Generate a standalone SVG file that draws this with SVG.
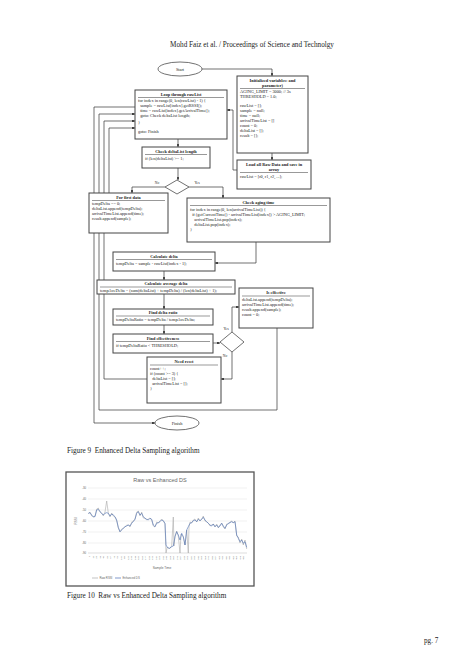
<svg xmlns="http://www.w3.org/2000/svg" width="474" height="670" viewBox="0 0 474 670">
<defs>
<marker id="ah" viewBox="0 0 6 6" refX="6" refY="3" markerWidth="4" markerHeight="4" orient="auto"><path d="M0,0L6,3L0,6z" fill="#222"/></marker>
<style>
.b{fill:#fff;stroke:#444;stroke-width:1}
.e{fill:#fff;stroke:#333;stroke-width:0.7}
.t{font-family:"Liberation Serif",serif;font-size:4.3px;fill:#222;white-space:pre}
.h{font-weight:bold;text-anchor:middle}
.u{stroke:#333;stroke-width:0.5}
.c{fill:none;stroke:#333;stroke-width:0.7}
.a{marker-end:url(#ah)}
.lbl{font-family:"Liberation Serif",serif;font-size:3.6px;fill:#222}
.cap{font-family:"Liberation Serif",serif;font-size:7.2px;fill:#222;white-space:pre}
.g{stroke:#e2e2e2;stroke-width:0.5}
.ct{font-family:"Liberation Sans",sans-serif;fill:#666}
</style>
</defs>
<rect width="474" height="670" fill="#fff"/>
<text class="cap" x="252" y="46.5" text-anchor="middle" font-size="7.5">Mohd Faiz et al. / Proceedings of Science and Technolgy</text>

<g id="connectors">
<path class="c a" d="M202,69H272V76"/>
<path class="c a" d="M272,153V160"/>
<path class="c a" d="M237,170H233V110H227"/>
<path class="c a" d="M178,139V147"/>
<path class="c a" d="M178,168V180"/>
<path class="c a" d="M165,187H132V193"/>
<path class="c a" d="M189,187H223V198"/>
<path class="c a" d="M256,242V263H215"/>
<path class="c a" d="M164,271V280"/>
<path class="c a" d="M164,294V309"/>
<path class="c a" d="M164,325V334"/>
<path class="c a" d="M213,343H220"/>
<path class="c a" d="M232,332V307H239"/>
<path class="c a" d="M232,352V379H221"/>
<path class="c a" d="M277,328V410H99V114H135"/>
<path class="c a" d="M147,379H104V121H135"/>
<path class="c a" d="M109,193V128H135"/>
<path class="c a" d="M135,107H94V423H155"/>
<text class="lbl" x="157" y="183.5" text-anchor="middle">No</text>
<text class="lbl" x="197" y="183.5" text-anchor="middle">Yes</text>
<text class="lbl" x="226" y="330" text-anchor="middle">Yes</text>
<text class="lbl" x="225" y="357" text-anchor="middle">No</text>
</g>

<g id="start"><ellipse class="e" cx="180" cy="69" rx="22" ry="7"/><text class="t" x="180" y="70.5" text-anchor="middle">Start</text></g>

<g id="init">
<rect class="b" x="237" y="76" width="71" height="77"/>
<text class="t h" x="272.5" y="81.5">Initialized variables: and</text>
<text class="t h" x="272.5" y="86.5">parameter)</text>
<line class="u" x1="240" y1="88.5" x2="305" y2="88.5"/>
<text class="t" x="240" y="92.5">AGING_LIMIT = 3000; // 3s</text>
<text class="t" x="240" y="97.5">THRESHOLD = 1.0;</text>
<text class="t" x="240" y="107">rawList = [];</text>
<text class="t" x="240" y="112">sample = null;</text>
<text class="t" x="240" y="117">time = null;</text>
<text class="t" x="240" y="122">arrivalTimeList = []</text>
<text class="t" x="240" y="127">count = 0;</text>
<text class="t" x="240" y="132">deltaList = [];</text>
<text class="t" x="240" y="137">result = [];</text>
</g>

<g id="load">
<rect class="b" x="237" y="160" width="74" height="29"/>
<text class="t h" x="274" y="165.5">Load all Raw Data and save in</text>
<text class="t h" x="274" y="170.5">array</text>
<line class="u" x1="240" y1="172.5" x2="308" y2="172.5"/>
<text class="t" x="240" y="177.5">rawList = [r0, r1, r2, ...];</text>
</g>

<g id="loop">
<rect class="b" x="135" y="90" width="92" height="49"/>
<text class="t h" x="181" y="95.5">Loop through rawList</text>
<line class="u" x1="138" y1="97.5" x2="224" y2="97.5"/>
<text class="t" x="138" y="102">for index in range(0, len(rawList) - 1) {</text>
<text class="t" x="138" y="107">  sample = rawList[index].getRSSI();</text>
<text class="t" x="138" y="112">  time = rawList[index].getArrivalTime();</text>
<text class="t" x="138" y="117">  goto: Check deltaList length;</text>
<text class="t" x="138" y="124">}</text>
<text class="t" x="138" y="133">goto: Finish</text>
</g>

<g id="checklen">
<rect class="b" x="142" y="147" width="68" height="21"/>
<text class="t h" x="176" y="152.5">Check deltaList length</text>
<line class="u" x1="145" y1="154.5" x2="207" y2="154.5"/>
<text class="t" x="145" y="159.5">if (len(deltaList) &gt;= 1;</text>
</g>

<g id="dec1"><path class="e" d="M177,180L189,187L177,194L165,187z"/></g>

<g id="firstdata">
<rect class="b" x="89" y="193" width="79" height="40"/>
<text class="t h" x="128.5" y="198.5">For first data</text>
<line class="u" x1="92" y1="200.5" x2="165" y2="200.5"/>
<text class="t" x="92" y="205">tempDelta == 0;</text>
<text class="t" x="92" y="210">deltaList.append(tempDelta);</text>
<text class="t" x="92" y="215">arrivalTimeList.append(time);</text>
<text class="t" x="92" y="220">result.append(sample);</text>
</g>

<g id="aging">
<rect class="b" x="187" y="198" width="143" height="44"/>
<text class="t h" x="258.5" y="203.5">Check aging time</text>
<line class="u" x1="190" y1="205.5" x2="327" y2="205.5"/>
<text class="t" x="190" y="210.5">for index in range(0, len(arrivalTimeList)) {</text>
<text class="t" x="190" y="215.5">  if (getCurrentTime() - arrivalTimeList[index]) &gt; AGING_LIMIT;</text>
<text class="t" x="190" y="220.5">    arrivalTimeList.pop(index);</text>
<text class="t" x="190" y="225.5">    deltaList.pop(index);</text>
<text class="t" x="190" y="230.5">}</text>
</g>

<g id="calcdelta">
<rect class="b" x="113" y="252" width="102" height="19"/>
<text class="t h" x="164" y="257.5">Calculate delta</text>
<line class="u" x1="116" y1="259.5" x2="212" y2="259.5"/>
<text class="t" x="116" y="264.5">tempDelta = sample - rawList[index - 1];</text>
</g>

<g id="calcavg">
<rect class="b" x="97" y="280" width="138" height="14"/>
<text class="t h" x="166" y="285">Calculate average delta</text>
<line class="u" x1="100" y1="287" x2="232" y2="287"/>
<text class="t" x="100" y="291.5">tempAveDelta = (sum(deltaList) + tempDelta) / (len(deltaList) + 1);</text>
</g>

<g id="ratio">
<rect class="b" x="113" y="309" width="100" height="16"/>
<text class="t h" x="163" y="314">Find delta ratio</text>
<line class="u" x1="116" y1="316" x2="210" y2="316"/>
<text class="t" x="116" y="321">tempDeltaRatio = tempDelta / tempAveDelta;</text>
</g>

<g id="effect">
<rect class="b" x="113" y="334" width="100" height="19"/>
<text class="t h" x="163" y="339.5">Find effectiveness</text>
<line class="u" x1="116" y1="341.5" x2="210" y2="341.5"/>
<text class="t" x="116" y="346.5">if tempDeltaRatio &lt; THRESHOLD;</text>
</g>

<g id="dec2"><path class="e" d="M232,332L244,342L232,352L220,342z"/></g>

<g id="iseffective">
<rect class="b" x="239" y="288" width="74" height="40"/>
<text class="t h" x="276" y="294">Is effective</text>
<line class="u" x1="242" y1="296" x2="310" y2="296"/>
<text class="t" x="242" y="300.5">deltaList.append(tempDelta);</text>
<text class="t" x="242" y="305.5">arrivalTimeList.append(time);</text>
<text class="t" x="242" y="310.5">result.append(sample);</text>
<text class="t" x="242" y="315.5">count = 0;</text>
</g>

<g id="reset">
<rect class="b" x="147" y="357" width="74" height="46"/>
<text class="t h" x="184" y="363">Need reset</text>
<line class="u" x1="150" y1="365" x2="218" y2="365"/>
<text class="t" x="150" y="369.5">count++;</text>
<text class="t" x="150" y="374.5">if (count &gt;= 3) {</text>
<text class="t" x="150" y="379.5">  deltaList = [];</text>
<text class="t" x="150" y="384.5">  arrivalTimeList = [];</text>
<text class="t" x="150" y="389.5">}</text>
</g>

<g id="finish"><ellipse class="e" cx="177" cy="423" rx="22" ry="7"/><text class="t" x="177" y="424.5" text-anchor="middle">Finish</text></g>

<text class="cap" x="67" y="453">Figure 9  Enhanced Delta Sampling algorithm</text>

<g id="chart">
<rect x="66" y="472" width="188" height="114" fill="#fff" stroke="#555" stroke-width="1.3"/>
<text class="ct" x="160" y="482" text-anchor="middle" font-size="5.5">Raw vs Enhanced DS</text>
<g class="g">
<line x1="88" y1="488" x2="247" y2="488"/><line x1="88" y1="499" x2="247" y2="499"/><line x1="88" y1="510" x2="247" y2="510"/><line x1="88" y1="521" x2="247" y2="521"/><line x1="88" y1="532" x2="247" y2="532"/><line x1="88" y1="543" x2="247" y2="543"/>
</g>
<line x1="88" y1="553" x2="247" y2="553" stroke="#bbb" stroke-width="0.5"/>
<g class="ct" font-size="2.8" text-anchor="end">
<text x="86" y="489">-30</text><text x="86" y="500">-40</text><text x="86" y="511">-50</text><text x="86" y="522">-60</text><text x="86" y="533">-70</text><text x="86" y="544">-80</text><text x="86" y="554">-90</text>
</g>
<text class="ct" font-size="3" text-anchor="middle" transform="translate(77,521) rotate(-90)">RSSI</text>
<polyline fill="none" stroke="#aaa" stroke-width="0.6" points="88.3,514 90,512 91.7,516 93.3,517 95,516 96.7,509 98.3,508 100,512 101.7,513 103.3,516 105,512 106.7,501 108.3,513 110,517 111.7,513 113.3,516 115,517 116.7,521 118.3,528 120,532 121.7,529 123.3,528 125,527 126.7,525 128.3,525 130,527 131.7,522 133.3,521 135,519 136.7,512 138.3,511 140,516 141.7,512 143.3,518 145,518 146.7,520 148.3,519 150,518 151.7,520 153.3,526 155,527 156.7,522 158.3,523 160,521 161.7,519 163.3,521 165,524 166,553 167.3,547 169.3,549 171.7,546 173.3,517 174,546 175,536 176.7,531 178.3,536 180,553 181,534 183.3,537 185,545 186.7,530 188.3,553 189,527 190,522 191.7,523 193.3,520 195,519 196.7,522 198.3,518 200,521 201.7,519 203.3,516 205,521 206.7,522 208.3,523 210,526 211.7,525 213.3,524 215,527 216.7,524 218.3,528 220,525 221.7,523 223.3,527 225,529 226.7,524 228.3,524 230,522 231.7,521 233.3,523 235,521 236.7,536 238.3,537 240,543 241.7,539 243.3,545 245,540 246.7,549"/>
<polyline fill="none" stroke="#4a6fb5" stroke-width="0.6" points="88.3,513.3 90,512.7 91.7,515 93.3,516.7 95,516.7 96.7,510 98.3,509.3 100,511.7 101.7,513.3 103.3,515 105,513.3 106.7,512.7 108.3,513.3 110,516 111.7,514 113.3,515 115,516.7 116.7,520 118.3,527.3 120,531.7 121.7,530 123.3,528.3 125,526.7 126.7,526 128.3,525 130,526 131.7,523.3 133.3,521.7 135,519.3 136.7,513.3 138.3,511.7 140,515 141.7,513.3 143.3,516.7 145,518.3 146.7,519.3 148.3,520 150,518.3 151.7,519.3 153.3,525 155,526.7 156.7,523.3 158.3,522.7 160,521.7 161.7,520 163.3,520.7 165,523.3 166,545 167.3,547.3 169.3,548.3 171.7,546.7 173.3,546 175,536.7 176.7,531.7 178.3,535 180,540 181.7,533.3 183.3,536.7 185,545 186.7,530 188.3,526.7 190,523.3 191.7,522.7 193.3,520.7 195,520 196.7,521.7 198.3,519.3 200,520.7 201.7,519.3 203.3,517.3 205,520 206.7,521.7 208.3,523.3 210,525 211.7,526 213.3,524 215,526.7 216.7,525 218.3,527.3 220,526 221.7,523.3 223.3,526 225,528.3 226.7,525 228.3,523.3 230,522.7 231.7,521.7 233.3,522.7 235,521.7 236.7,535 238.3,538.3 240,541.7 241.7,540 243.3,543.3 245,541.7 246.7,547.3"/>
<g class="ct" font-size="2.2" text-anchor="end">
<text transform="translate(90,556) rotate(-90)">1</text><text transform="translate(93.5,556) rotate(-90)">12</text><text transform="translate(97,556) rotate(-90)">23</text><text transform="translate(100.5,556) rotate(-90)">34</text><text transform="translate(104,556) rotate(-90)">45</text><text transform="translate(107.5,556) rotate(-90)">56</text><text transform="translate(111,556) rotate(-90)">67</text><text transform="translate(114.5,556) rotate(-90)">78</text><text transform="translate(118,556) rotate(-90)">89</text><text transform="translate(121.5,556) rotate(-90)">100</text><text transform="translate(125,556) rotate(-90)">111</text><text transform="translate(128.5,556) rotate(-90)">122</text><text transform="translate(132,556) rotate(-90)">133</text><text transform="translate(135.5,556) rotate(-90)">144</text><text transform="translate(139,556) rotate(-90)">155</text><text transform="translate(142.5,556) rotate(-90)">166</text><text transform="translate(146,556) rotate(-90)">177</text><text transform="translate(149.5,556) rotate(-90)">188</text><text transform="translate(153,556) rotate(-90)">199</text><text transform="translate(156.5,556) rotate(-90)">210</text><text transform="translate(160,556) rotate(-90)">221</text><text transform="translate(163.5,556) rotate(-90)">232</text><text transform="translate(167,556) rotate(-90)">243</text><text transform="translate(170.5,556) rotate(-90)">254</text><text transform="translate(174,556) rotate(-90)">265</text><text transform="translate(177.5,556) rotate(-90)">276</text><text transform="translate(181,556) rotate(-90)">287</text><text transform="translate(184.5,556) rotate(-90)">298</text><text transform="translate(188,556) rotate(-90)">309</text><text transform="translate(191.5,556) rotate(-90)">320</text><text transform="translate(195,556) rotate(-90)">331</text><text transform="translate(198.5,556) rotate(-90)">342</text><text transform="translate(202,556) rotate(-90)">353</text><text transform="translate(205.5,556) rotate(-90)">364</text><text transform="translate(209,556) rotate(-90)">375</text><text transform="translate(212.5,556) rotate(-90)">386</text><text transform="translate(216,556) rotate(-90)">397</text><text transform="translate(219.5,556) rotate(-90)">408</text><text transform="translate(223,556) rotate(-90)">419</text><text transform="translate(226.5,556) rotate(-90)">430</text><text transform="translate(230,556) rotate(-90)">441</text><text transform="translate(233.5,556) rotate(-90)">452</text><text transform="translate(237,556) rotate(-90)">463</text><text transform="translate(240.5,556) rotate(-90)">474</text><text transform="translate(244,556) rotate(-90)">485</text>
</g>
<text class="ct" x="162" y="569" text-anchor="middle" font-size="3.2">Sample Time</text>
<line x1="92" y1="578" x2="98" y2="578" stroke="#aaa" stroke-width="0.7"/>
<text class="ct" x="99.5" y="579" font-size="2.8">Raw RSSI</text>
<line x1="115" y1="578" x2="121" y2="578" stroke="#4a6fb5" stroke-width="0.7"/>
<text class="ct" x="122.5" y="579" font-size="2.8">Enhanced DS</text>
</g>

<text class="cap" x="67" y="598">Figure 10  Raw vs Enhanced Delta Sampling algorithm</text>
<text class="cap" x="424" y="643" font-size="8">pg. 7</text>
</svg>
